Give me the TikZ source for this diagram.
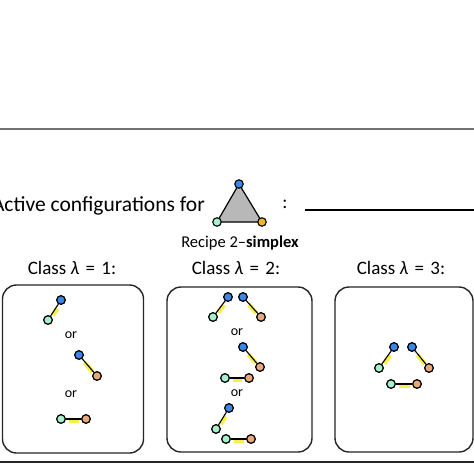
\documentclass[tikz,border=0pt]{standalone}
\usepackage{fontspec}
\setmainfont{Carlito}
\begin{document}
\begin{tikzpicture}[x=1pt,y=-1pt,
  v/.style={circle,draw=black,line width=1.1pt,inner sep=0pt,minimum size=8.5pt},
  vb/.style={v,fill=blueC},
  vg/.style={v,fill=greenC},
  vp/.style={v,fill=peachC},
  vo/.style={v,fill=orangeC},
  cbox/.style={draw=black!85,line width=1.4pt,rounded corners=14pt},
  glow/.style={draw=yellowC,line width=4.5pt,shorten <=3pt,shorten >=3pt},
  edg/.style={draw=black,line width=1.1pt},
  ortext/.style={font=\fontsize{14}{16}\selectfont},
  cls/.style={font=\fontsize{19}{22}\selectfont}]
\definecolor{blueC}{HTML}{3C86E6}
\definecolor{greenC}{HTML}{A6F0CE}
\definecolor{peachC}{HTML}{E8A87C}
\definecolor{orangeC}{HTML}{F2B528}
\definecolor{yellowC}{HTML}{F6F048}
\useasboundingbox (0,0) rectangle (474,474);
\fill[white] (0,0) rectangle (474,474);
% lines
\coordinate (tl) at (0,129); \coordinate (tr) at (474,129);
\draw[line width=1.6pt,draw=black!55] (tl) -- (tr);
\coordinate (bl) at (0,462); \coordinate (br) at (474,462);
\draw[line width=2pt,draw=black!85] (bl) -- (br);
\coordinate (hl) at (305,210); \coordinate (hr) at (474,210);
\draw[line width=1.3pt] (hl) -- (hr);
% header
\node[anchor=east,inner sep=0pt,font=\fontsize{21.5}{24}\selectfont] (act) at (205,206) {Active configurations for};
\node[inner sep=0pt,font=\fontsize{19}{22}\selectfont] (colon) at (285,204) {:};
\coordinate (ta) at (239,184); \coordinate (tb) at (217,222); \coordinate (tc) at (262,222);
\draw[fill=black!28,line width=1.2pt,line join=round] (ta) -- (tb) -- (tc) -- cycle;
\node[vb] (t1) at (ta) {};
\node[vg] (t2) at (tb) {};
\node[vo] (t3) at (tc) {};
\node[inner sep=0pt,font=\fontsize{16.5}{18}\selectfont] (rec) at (240,243) {Recipe 2\textendash\textbf{simplex}};
% class labels
\node[cls] (c1) at (72,268) {Class \textit{λ}\kern2pt\ =\ \kern2pt1:};
\node[cls] (c2) at (236,268) {Class \textit{λ}\kern2pt\ =\ \kern2pt2:};
\node[cls] (c3) at (401,268) {Class \textit{λ}\kern2pt\ =\ \kern2pt3:};
% boxes
\node[cbox,minimum width=141pt,minimum height=168pt] (b1) at (73,369) {};
\node[cbox,minimum width=145pt,minimum height=165pt] (b2) at (239.5,369.5) {};
\node[cbox,minimum width=138pt,minimum height=165pt] (b3) at (404,369.5) {};
% box 1
\node[ortext] (o11) at (71,335) {or};
\node[ortext] (o12) at (71,394) {or};
\node[vb] (a1) at (61,300) {}; \node[vg] (a2) at (48,320) {};
\node[vb] (a3) at (79,355) {}; \node[vp] (a4) at (97,376) {};
\node[vg] (a5) at (61,419) {}; \node[vp] (a6) at (86,419) {};
% box 2
\node[ortext] (o21) at (237,332) {or};
\node[ortext] (o22) at (237,393) {or};
\node[vg] (d1) at (213,317) {}; \node[vb] (d2) at (228,297) {};
\node[vb] (d3) at (243,297) {}; \node[vp] (d4) at (261,317) {};
\node[vb] (d5) at (243,347) {}; \node[vp] (d6) at (260,367) {};
\node[vg] (d7) at (225,378) {}; \node[vp] (d8) at (249,378) {};
\node[vb] (d9) at (229,408) {}; \node[vg] (d10) at (216,429) {};
\node[vg] (d11) at (226,439) {}; \node[vp] (d12) at (251,439) {};
% box 3
\node[vb] (e1) at (394,347) {}; \node[vg] (e2) at (379,368) {};
\node[vb] (e3) at (412,347) {}; \node[vp] (e4) at (429,368) {};
\node[vg] (e5) at (391,384) {}; \node[vp] (e6) at (417,384) {};
% edges with yellow glow
\foreach \p/\q in {a1/a2,a3/a4,a5/a6,d1/d2,d3/d4,d5/d6,d7/d8,d9/d10,d11/d12,e1/e2,e3/e4,e5/e6}{
  \draw[glow,transform canvas={shift={(0.6pt,-1.8pt)}}] (\p) -- (\q);
  \draw[edg] (\p) -- (\q);
}
% redraw nodes on top
\foreach \n/\s in {a1/vb,a2/vg,a3/vb,a4/vp,a5/vg,a6/vp,d1/vg,d2/vb,d3/vb,d4/vp,d5/vb,d6/vp,d7/vg,d8/vp,d9/vb,d10/vg,d11/vg,d12/vp,e1/vb,e2/vg,e3/vb,e4/vp,e5/vg,e6/vp}{
  \node[\s] at (\n.center) {};
}
\end{tikzpicture}
\end{document}
